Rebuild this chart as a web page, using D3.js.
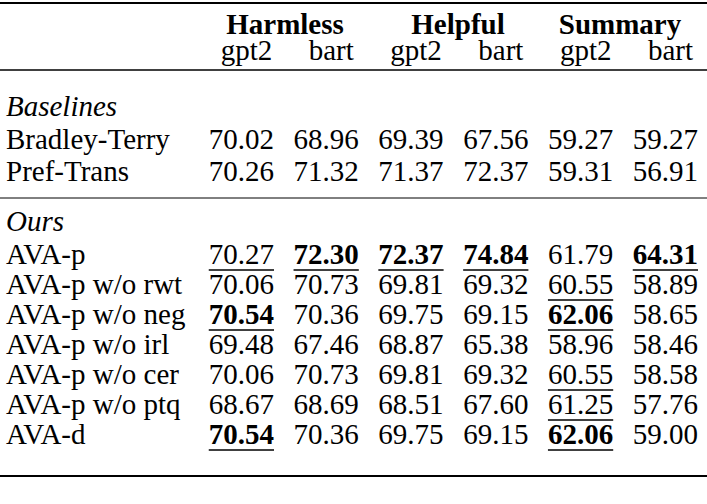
<!DOCTYPE html>
<html>
<head>
<meta charset="utf-8">
<script src="https://cdn.jsdelivr.net/npm/d3@7"></script>
<style>
  body { margin: 0; background: #fff; }
  svg text { font-family: "Liberation Serif", "Times New Roman", Times, serif; fill: #000; }
</style>
</head>
<body>
<svg id="chart" width="707" height="504"></svg>
<script>
// table content
const groups = ["Harmless", "Helpful", "Summary"];
const models = ["gpt2", "bart", "gpt2", "bart", "gpt2", "bart"];
const baselineNames = ["Bradley-Terry", "Pref-Trans"];
const baselineValues = [
  ["70.02", "68.96", "69.39", "67.56", "59.27", "59.27"],
  ["70.26", "71.32", "71.37", "72.37", "59.31", "56.91"]
];
const oursNames = ["AVA-p", "AVA-p w/o rwt", "AVA-p w/o neg", "AVA-p w/o irl", "AVA-p w/o cer", "AVA-p w/o ptq", "AVA-d"];
const oursValues = [
  ["70.27", "72.30", "72.37", "74.84", "61.79", "64.31"],
  ["70.06", "70.73", "69.81", "69.32", "60.55", "58.89"],
  ["70.54", "70.36", "69.75", "69.15", "62.06", "58.65"],
  ["69.48", "67.46", "68.87", "65.38", "58.96", "58.46"],
  ["70.06", "70.73", "69.81", "69.32", "60.55", "58.58"],
  ["68.67", "68.69", "68.51", "67.60", "61.25", "57.76"],
  ["70.54", "70.36", "69.75", "69.15", "62.06", "59.00"]
];
// b = bold, u = underline
const oursStyle = [
  ["u", "bu", "bu", "bu", "", "bu"],
  ["", "", "", "", "u", ""],
  ["bu", "", "", "", "bu", ""],
  ["", "", "", "", "", ""],
  ["", "", "", "", "u", ""],
  ["", "", "", "", "u", ""],
  ["bu", "", "", "", "bu", ""]
];

const svg = d3.select("#chart");
const W = 707;
const fs = 29;
const FONT = "'Liberation Serif', 'Times New Roman', Times, serif";

// column right edges
const x = d3.scaleLinear().domain([0, 5]).range([274, 698]);
const colW = 67;

function rule(y, w) {
  svg.append("line").attr("x1", 0).attr("x2", W).attr("y1", y).attr("y2", y)
    .attr("stroke", "#000").attr("stroke-width", w);
}
rule(3, 2.2);
rule(70, 1.3);
rule(198, 1);
rule(476, 2.2);

// group headers
const gx = [285, 458, 620];
svg.selectAll(".grp").data(groups).enter().append("text")
  .attr("x", (d, i) => gx[i]).attr("y", 34)
  .attr("text-anchor", "middle").attr("font-weight", "bold").attr("font-size", fs)
  .attr("font-family", FONT)
  .text(d => d);

svg.selectAll(".mdl").data(models).enter().append("text")
  .attr("x", (d, i) => x(i) - colW / 2 + 6).attr("y", 60)
  .attr("text-anchor", "middle").attr("font-size", fs)
  .attr("font-family", FONT)
  .text(d => d);

function section(title, ty, names, values, styles, y0, step) {
  svg.append("text").attr("x", 6).attr("y", ty).attr("font-style", "italic")
    .attr("font-family", FONT).attr("font-size", fs).text(title);
  const y = d3.scaleLinear().domain([0, 1]).range([y0, y0 + step]);
  names.forEach((n, r) => {
    svg.append("text").attr("x", 6).attr("y", y(r)).attr("font-size", fs)
      .attr("font-family", FONT).text(n);
    values[r].forEach((v, c) => {
      const s = styles ? styles[r][c] : "";
      const t = svg.append("text").attr("x", x(c)).attr("y", y(r))
        .attr("text-anchor", "end").attr("font-size", fs)
        .attr("font-family", FONT)
        .attr("font-weight", s.includes("b") ? "bold" : "normal")
        .text(v);
      if (s.includes("u")) {
        const len = t.node().getComputedTextLength();
        svg.append("line").attr("x1", x(c) - len).attr("x2", x(c))
          .attr("y1", y(r) + 6).attr("y2", y(r) + 6)
          .attr("stroke", "#000").attr("stroke-width", 1.3);
      }
    });
  });
}

section("Baselines", 116, baselineNames, baselineValues, null, 149, 32);
section("Ours", 231, oursNames, oursValues, oursStyle, 264, 30);
</script>
</body>
</html>
